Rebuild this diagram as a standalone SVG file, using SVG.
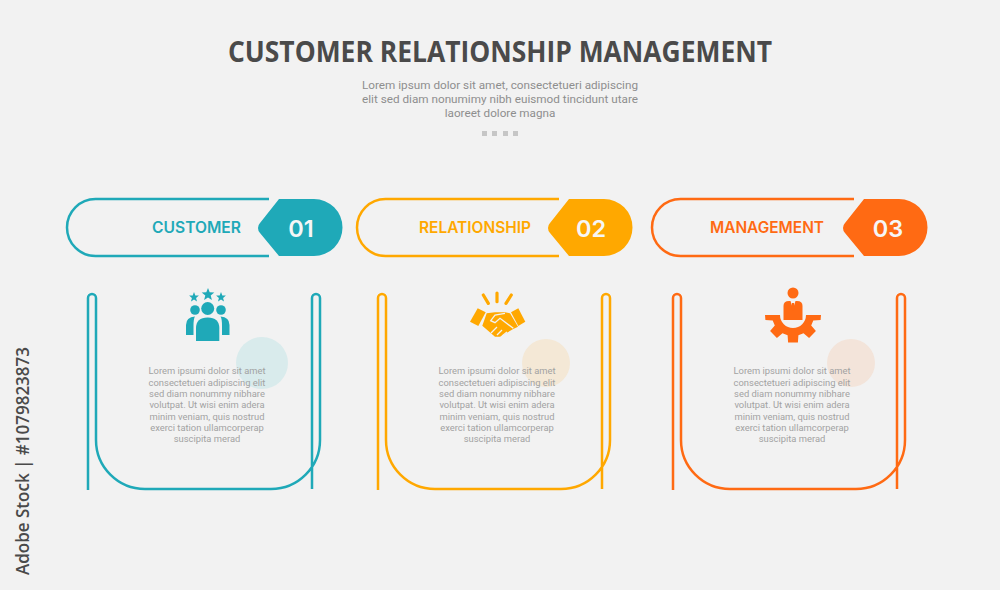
<svg xmlns="http://www.w3.org/2000/svg" width="1000" height="590" viewBox="0 0 1000 590">
<style>
.title{font:700 29px "Open Sans","Liberation Sans",sans-serif;fill:#4a4a4a;text-anchor:middle}
.sub{font:400 11.700px Roboto,"Liberation Sans",sans-serif;fill:#8e8e8e;text-anchor:middle}
.body{font:400 9.400px Roboto,"Liberation Sans",sans-serif;fill:#a2a2a2;text-anchor:middle}
.label{font:600 15.500px Inter,"Liberation Sans",sans-serif;text-anchor:middle}
.num{font:600 23.500px Inter,"Liberation Sans",sans-serif;fill:#f6f6f6;text-anchor:middle}
.side{font:600 18px "Open Sans","Liberation Sans",sans-serif;fill:#4a4a4a}
.line{fill:none;stroke:currentColor;stroke-width:2.500}
.solid{fill:currentColor}
.teal{color:#1fa9b8;fill:#1fa9b8}
.amber{color:#ffa800;fill:#ffa800}
.orange{color:#ff6a13;fill:#ff6a13}
.dot{fill:#c6c6c6}
</style>
<defs>
<path id="pill" class="line" d="M269,199H95.500A28.500,28.500 0 0 0 95.500,256H269"/>
<path id="badge" class="solid" d="M258,228Q258,225 260,223L279,199H314A28.500,28.500 0 0 1 314,256H279L260,233Q258,231 258,228Z"/>
<path id="frame" class="line" d="M88,490V298A4,4 0 0 1 96,298V440A49,49 0 0 0 145,489H271A49,49 0 0 0 320,440V298A4,4 0 0 0 312,298V489"/>
</defs>
<rect width="1000" height="590" fill="#f2f2f2"/>

<g id="header">
<text class="title" x="500" y="62" textLength="544" lengthAdjust="spacingAndGlyphs">CUSTOMER RELATIONSHIP MANAGEMENT</text>
<text class="sub" x="500" y="89" textLength="276" lengthAdjust="spacingAndGlyphs">Lorem ipsum dolor sit amet, consectetueri adipiscing</text>
<text class="sub" x="500" y="103" textLength="276" lengthAdjust="spacingAndGlyphs">elit sed diam nonumimy nibh euismod tincidunt utare</text>
<text class="sub" x="500" y="117">laoreet dolore magna</text>
<rect class="dot" x="482" y="131" width="5" height="5"/>
<rect class="dot" x="492" y="131" width="5" height="5"/>
<rect class="dot" x="503" y="131" width="5" height="5"/>
<rect class="dot" x="513" y="131" width="5" height="5"/>
</g>

<g id="connectors"></g>

<g id="node-customer" class="teal">
<use href="#pill"/><use href="#badge"/><use href="#frame"/>
<text class="label" x="196.500" y="232.500" textLength="89" lengthAdjust="spacingAndGlyphs">CUSTOMER</text>
<text class="num" x="301" y="236.500">01</text>
<circle cx="262" cy="363" r="26" fill="#d9ebec"/>
<g id="icon-people" class="solid">
<path d="M194,292l1.300,3.400 3.600,.2-2.800,2.300 .9,3.500-3,-2-3,2 .9-3.500-2.800-2.300 3.600-.2Z"/>
<path d="M208,288l1.700,4.300 4.600,.3-3.600,2.900 1.200,4.500-3.900-2.500-3.900,2.500 1.200-4.500-3.600-2.900 4.600-.3Z"/>
<path d="M221,292l1.300,3.400 3.600,.2-2.800,2.300 .9,3.500-3,-2-3,2 .9-3.500-2.800-2.300 3.600-.2Z"/>
<circle cx="195" cy="310" r="4.800"/><circle cx="207.700" cy="308.500" r="6.500"/><circle cx="221" cy="310" r="4.800"/>
<path d="M196,341V328.300Q196,317.500 207.700,317.500Q219.300,317.500 219.300,328.300V341Z"/>
<path d="M186,335V325Q186,317 195,316.500Q193.500,318.500 193.500,326V335Z"/>
<path d="M229.500,335V325Q229.500,317 220.500,316.500Q222,318.500 222,326V335Z"/>
</g>
<text class="body"><tspan x="207" y="374">Lorem ipsumi dolor sit amet</tspan><tspan x="207" y="386">consectetueri adipiscing elit</tspan><tspan x="207" y="397">sed diam nonummy nibhare</tspan><tspan x="207" y="408">volutpat. Ut wisi enim adera</tspan><tspan x="207" y="420">minim veniam, quis nostrud</tspan><tspan x="207" y="431">exerci tation ullamcorperap</tspan><tspan x="207" y="442">suscipita merad</tspan></text>
</g>

<g id="node-relationship" class="amber">
<use href="#pill" x="290"/><use href="#badge" x="290"/><use href="#frame" x="290"/>
<text class="label" x="475" y="232.500" textLength="112" lengthAdjust="spacingAndGlyphs">RELATIONSHIP</text>
<text class="num" x="591" y="236.500">02</text>
<circle cx="546" cy="363" r="24" fill="#f4e8d6"/>
<g id="icon-handshake">
<path class="solid" d="M477.700,308.300L485.700,312.300L478.300,326L470,321.700Z"/>
<path class="solid" d="M518.300,308.300L511,312.300L518.300,326L525.300,321.700Z"/>
<path class="line" style="stroke-width:3.200;stroke-linecap:round" d="M483.300,295L488.300,303.300M497,293V301.700M511.300,295L506,303.300"/>
<path class="solid" d="M486.700,313.300L495,312.300H505L510,313.300L518,326.700L513.300,329L500,336.700H495L482.300,325.700Z"/>
<path d="M505,313.300L495,315L490.700,320.700L495,322.700L500,318.300L513.300,328.300M497,327L491,333M502,330L497,335M507,332L502,336" fill="none" stroke="#f2f2f2" stroke-width="1.300"/>
</g>
<text class="body"><tspan x="497" y="374">Lorem ipsumi dolor sit amet</tspan><tspan x="497" y="386">consectetueri adipiscing elit</tspan><tspan x="497" y="397">sed diam nonummy nibhare</tspan><tspan x="497" y="408">volutpat. Ut wisi enim adera</tspan><tspan x="497" y="420">minim veniam, quis nostrud</tspan><tspan x="497" y="431">exerci tation ullamcorperap</tspan><tspan x="497" y="442">suscipita merad</tspan></text>
</g>

<g id="node-management" class="orange">
<use href="#pill" x="585"/><use href="#badge" x="585"/><use href="#frame" x="585"/>
<text class="label" x="767" y="232.500" textLength="114" lengthAdjust="spacingAndGlyphs">MANAGEMENT</text>
<text class="num" x="888" y="236.500">03</text>
<circle cx="851" cy="363" r="24" fill="#f3e4da"/>
<g id="icon-gear" class="solid">
<circle cx="793" cy="293" r="5.500"/>
<path d="M783.500,320V306Q783.500,301 789,301H797Q802.500,301 802.500,306V320Z"/>
<path d="M790.500,301L793,309L795.500,301" fill="#f2f2f2"/>
<path d="M792,303h2l.8,6-1.800,2-1.800-2Z"/>
<path d="M765,315H780A13,13 0 0 0 806,315H821L820.600,319.900L813.300,320.400L811.200,325.500L815.900,331.100L809.100,337.900L803.500,333.200L798.400,335.300L797.900,342.600H788.100L787.600,335.300L782.500,333.200L776.900,337.900L770.100,331.100L774.800,325.500L772.700,320.400L765.400,319.900Z"/>
</g>
<text class="body"><tspan x="792" y="374">Lorem ipsumi dolor sit amet</tspan><tspan x="792" y="386">consectetueri adipiscing elit</tspan><tspan x="792" y="397">sed diam nonummy nibhare</tspan><tspan x="792" y="408">volutpat. Ut wisi enim adera</tspan><tspan x="792" y="420">minim veniam, quis nostrud</tspan><tspan x="792" y="431">exerci tation ullamcorperap</tspan><tspan x="792" y="442">suscipita merad</tspan></text>
</g>

<text class="side" transform="translate(29,575) rotate(-90)" textLength="228" lengthAdjust="spacingAndGlyphs">Adobe Stock | #1079823873</text>
</svg>
